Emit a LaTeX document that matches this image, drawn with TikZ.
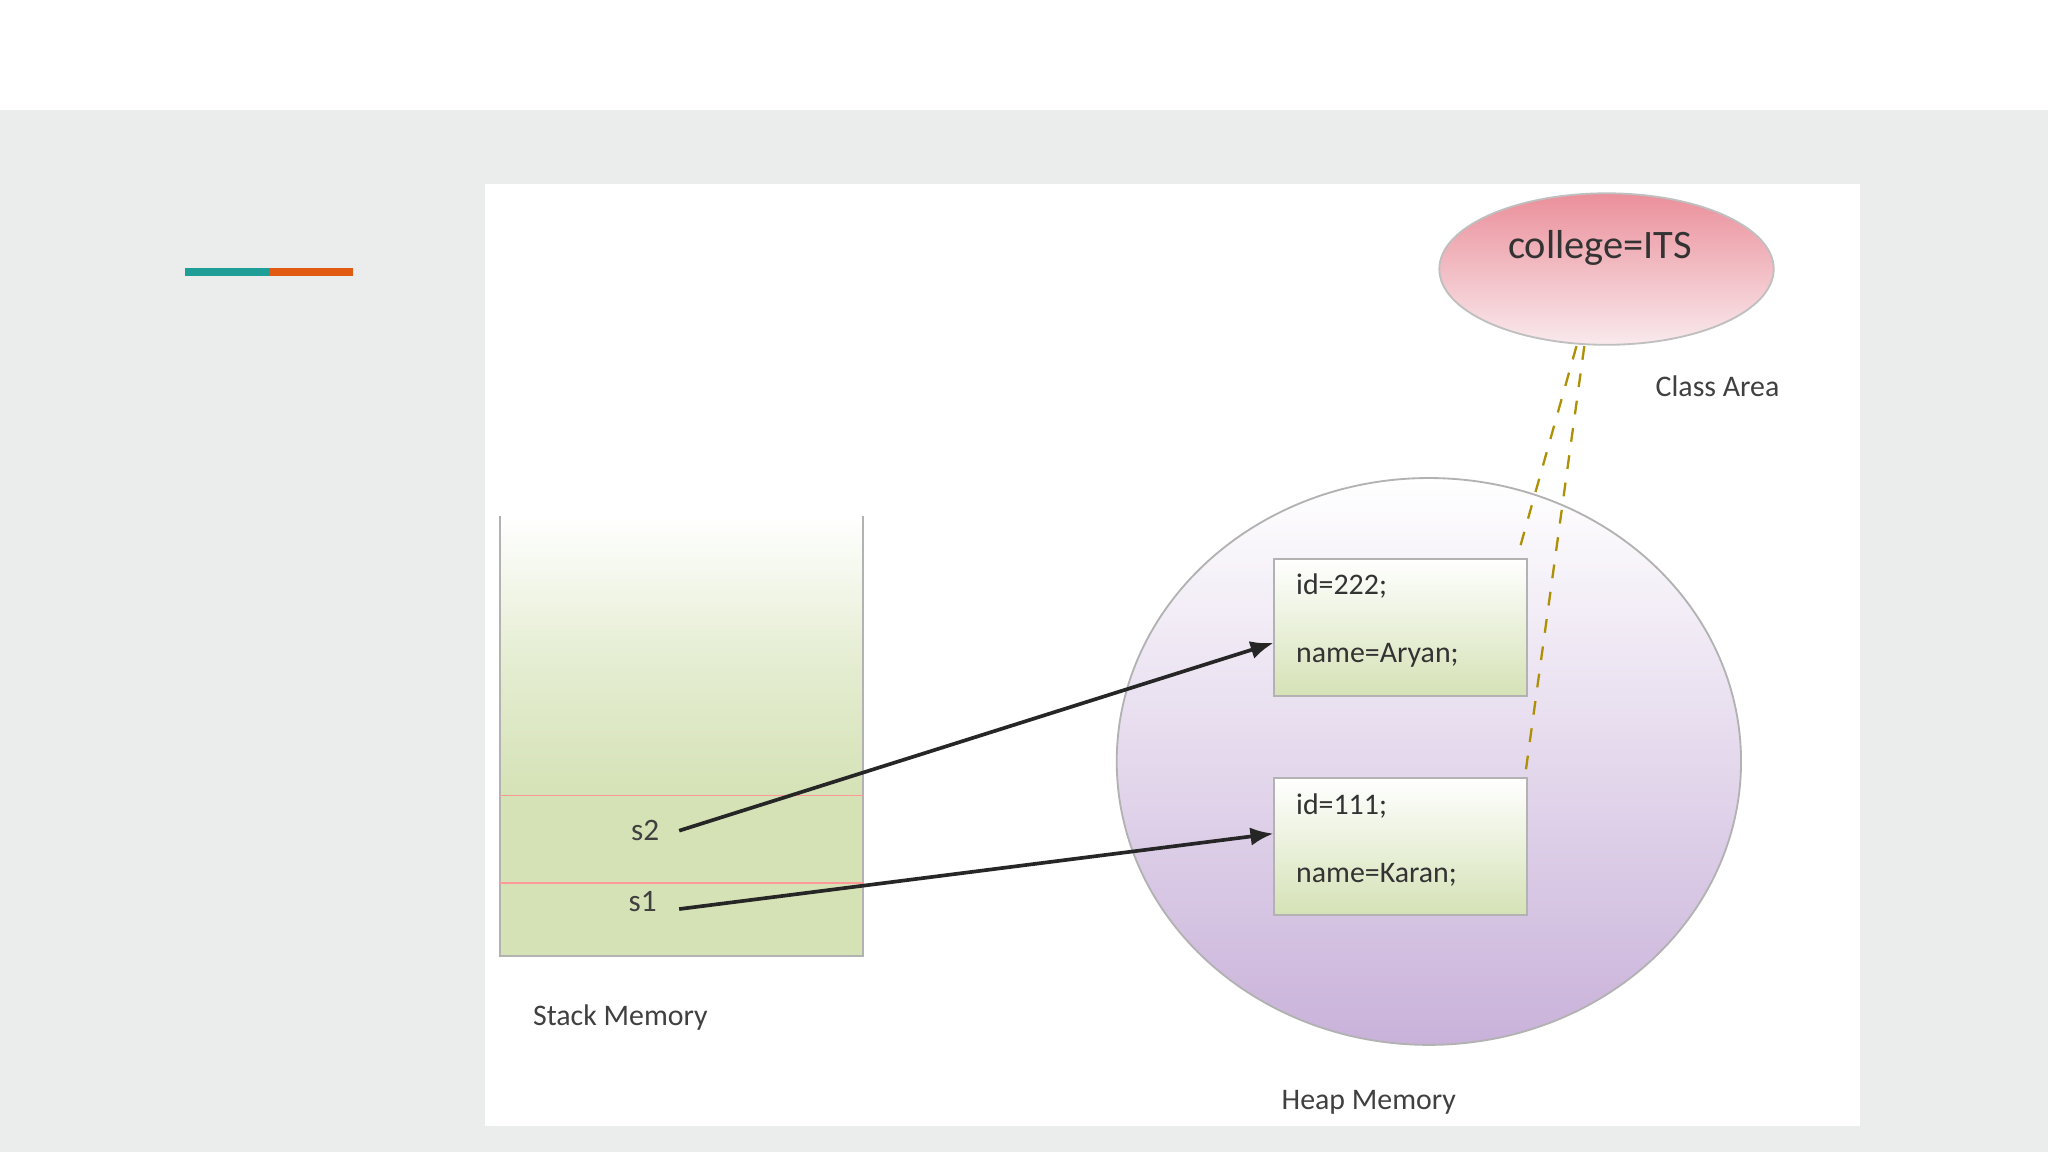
\documentclass[tikz,border=0pt]{standalone}
\usepackage{fontspec}
\setmainfont{Carlito}
\usetikzlibrary{shapes.geometric,arrows.meta}
\definecolor{bg}{HTML}{EBEDEC}
\definecolor{teal1}{HTML}{1E9E96}
\definecolor{orng}{HTML}{E05A12}
\definecolor{grn}{HTML}{D5E2B6}
\definecolor{pinkA}{HTML}{E7A9B6}
\definecolor{purp}{HTML}{C9B2DA}
\begin{document}
\begin{tikzpicture}[x=0.01cm,y=-0.01cm,
  lbl/.style={font=\fontsize{6.5}{7}\selectfont,text=black!75},
  txt/.style={font=\fontsize{6.5}{8}\selectfont,text=black!80,anchor=west},
  box/.style={draw=black!30,top color=white,bottom color=grn,minimum width=1.93cm,minimum height=1.05cm,anchor=north west,inner sep=0},
  arr/.style={-{Latex[length=5pt,width=4pt]},thick,black!85},
  dsh/.style={dashed,draw=olive!70!orange,line width=0.5pt}]
\useasboundingbox (0,0) rectangle (1568,882);
\fill[white] (0,0) rectangle (1568,84);
\fill[bg] (0,84) rectangle (1568,882);
\draw[teal1,line width=0.06cm] (142,208) -- (207,208);
\draw[orng,line width=0.06cm] (207,208) -- (270,208);
\fill[white] (371,141) rectangle (1424,862);
% stack
\shade[top color=white,bottom color=grn,middle color=grn!60] (383,395) rectangle (661,609);
\fill[grn] (383,609) rectangle (661,732);
\draw[black!30] (383,395) -- (383,732) -- (661,732) -- (661,395);
\draw[red!40,line width=0.4pt] (383,609) -- (661,609) (383,676) -- (661,676);
\node[lbl,font=\fontsize{6.8}{8}\selectfont] (s2) at (494,636) {s2};
\node[lbl,font=\fontsize{6.8}{8}\selectfont] (s1) at (492,690) {s1};
\coordinate (s2e) at (520,636);
\coordinate (s1e) at (520,696);
\node[lbl] (sm) at (475,779) {Stack Memory};
% heap
\shade[top color=white,bottom color=purp,middle color=purp!50,draw=black!30] (1094,583) ellipse [x radius=239,y radius=217];
\node[lbl] (hm) at (1048,844) {Heap Memory};
% class area
\shade[top color=pinkA!85!red,bottom color=pinkA!25,draw=black!25] (1230,206) ellipse [x radius=128,y radius=58];
\node[font=\fontsize{8.8}{10}\selectfont,text=black!80] (col) at (1225,190) {college=ITS};
\node[lbl] (ca) at (1315,296) {Class Area};
% objects
\node[box] (b1) at (975,427) {};
\node[txt] at (980,449) {id=222;};
\node[txt] at (980,502) {name=Aryan;};
\node[box] (b2) at (975,595) {};
\node[txt] at (980,617) {id=111;};
\node[txt] at (980,670) {name=Karan;};
\coordinate (c1) at (1207,265);
\coordinate (c2) at (1213,265);
\draw[dsh] (c1) -- ([xshift=-0.08cm]b1.north east);
\draw[dsh] (c2) -- ([xshift=-0.02cm]b2.north east);
\draw[arr] (s2e) -- ([yshift=-0.12cm]b1.west);
\draw[arr] (s1e) -- ([yshift=0.1cm]b2.west);
\end{tikzpicture}
\end{document}
